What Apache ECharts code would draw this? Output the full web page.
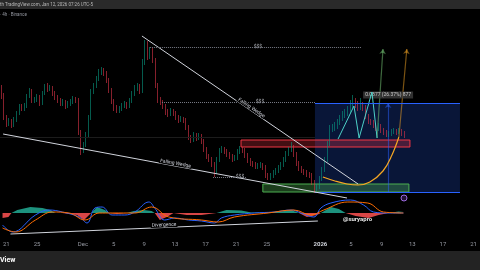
<!DOCTYPE html>
<html><head><meta charset="utf-8">
<script src="https://cdn.jsdelivr.net/npm/echarts@6.0.0/dist/echarts.min.js"></script>
<style>html,body{margin:0;padding:0;background:#000;}#c{width:480px;height:270px;}</style>
</head><body><div id="c"></div>
<script>
// ---- data (price units, 8h candles from 2025-11-20 16:00) ----
const firstOpen = 0.437;
const closes = [
0.429,0.408,0.402,0.404,0.400,0.405,0.412,0.418,0.417,0.419,
0.429,0.434,0.425,0.425,0.428,0.422,0.432,0.439,0.436,0.437,
0.432,0.428,0.425,0.422,0.423,0.419,0.421,0.423,0.426,0.425,
0.393,0.377,0.380,0.390,0.407,0.433,0.439,0.446,0.453,0.455,
0.452,0.445,0.435,0.424,0.417,0.415,0.416,0.419,0.421,0.419,
0.424,0.431,0.437,0.439,0.434,0.463,0.482,0.468,0.475,0.465,
0.440,0.425,0.423,0.419,0.413,0.411,0.414,0.412,0.408,0.405,
0.406,0.405,0.398,0.388,0.385,0.390,0.387,0.389,0.384,0.376,
0.369,0.366,0.361,0.353,0.365,0.374,0.376,0.374,0.371,0.369,
0.366,0.367,0.373,0.376,0.375,0.370,0.365,0.362,0.361,0.359,
0.359,0.360,0.358,0.350,0.347,0.349,0.352,0.354,0.357,0.360,
0.365,0.371,0.375,0.378,0.371,0.362,0.357,0.354,0.353,0.351,
0.350,0.343,0.336,0.338,0.346,0.355,0.365,0.381,0.397,0.397,
0.399,0.403,0.407,0.410,0.412,0.415,0.420,0.424,0.421,0.418,
0.421,0.418,0.409,0.404,0.403,0.400,0.397,0.399,0.395,0.393,
0.391,0.391,0.393,0.394,0.393,0.394,0.392,0.390];
const highs = [
0.440,0.432,0.410,0.407,0.406,0.408,0.414,0.421,0.421,0.422,
0.431,0.437,0.436,0.428,0.431,0.430,0.434,0.441,0.442,0.440,
0.439,0.434,0.430,0.427,0.426,0.425,0.424,0.426,0.429,0.428,
0.427,0.395,0.383,0.393,0.410,0.436,0.442,0.449,0.456,0.458,
0.457,0.454,0.447,0.437,0.426,0.420,0.419,0.422,0.424,0.423,
0.427,0.434,0.440,0.442,0.441,0.466,0.485,0.484,0.478,0.477,
0.467,0.442,0.428,0.425,0.421,0.416,0.417,0.416,0.414,0.410,
0.409,0.408,0.407,0.400,0.390,0.393,0.392,0.392,0.391,0.386,
0.378,0.371,0.368,0.363,0.368,0.377,0.379,0.378,0.376,0.373,
0.371,0.370,0.376,0.379,0.378,0.377,0.372,0.367,0.364,0.363,
0.362,0.363,0.362,0.360,0.352,0.352,0.355,0.357,0.360,0.363,
0.368,0.374,0.378,0.383,0.380,0.373,0.364,0.359,0.356,0.355,
0.353,0.352,0.345,0.341,0.349,0.358,0.368,0.384,0.400,0.401,
0.403,0.406,0.410,0.414,0.416,0.419,0.425,0.430,0.427,0.424,
0.427,0.423,0.420,0.411,0.406,0.405,0.402,0.402,0.401,0.397,
0.395,0.394,0.396,0.397,0.396,0.397,0.396,0.394];
const lows = [
0.426,0.405,0.398,0.399,0.397,0.398,0.403,0.410,0.414,0.414,
0.417,0.427,0.422,0.422,0.423,0.419,0.420,0.430,0.433,0.434,
0.429,0.425,0.422,0.419,0.419,0.416,0.417,0.419,0.421,0.422,
0.390,0.370,0.372,0.378,0.388,0.405,0.431,0.437,0.444,0.450,
0.449,0.442,0.432,0.421,0.414,0.412,0.412,0.414,0.417,0.416,
0.417,0.422,0.429,0.434,0.431,0.432,0.460,0.465,0.466,0.462,
0.437,0.422,0.420,0.416,0.410,0.408,0.409,0.409,0.405,0.402,
0.403,0.402,0.395,0.385,0.382,0.383,0.384,0.385,0.381,0.373,
0.366,0.363,0.358,0.348,0.351,0.363,0.372,0.371,0.368,0.366,
0.363,0.364,0.365,0.371,0.372,0.367,0.362,0.359,0.358,0.356,
0.356,0.357,0.355,0.347,0.345,0.345,0.347,0.350,0.352,0.355,
0.358,0.363,0.369,0.373,0.368,0.359,0.354,0.352,0.350,0.348,
0.347,0.340,0.332,0.334,0.336,0.344,0.353,0.363,0.379,0.393,
0.394,0.396,0.400,0.404,0.407,0.409,0.412,0.417,0.417,0.414,
0.415,0.414,0.406,0.401,0.400,0.397,0.394,0.394,0.392,0.390,
0.388,0.388,0.389,0.391,0.390,0.391,0.389,0.387];
const slotCount = 187;
const tickDates = ['2025-11-21','2025-11-25','2025-12-01','2025-12-05','2025-12-09','2025-12-13','2025-12-17','2025-12-21','2025-12-25','2026-01-01','2026-01-05','2026-01-09','2026-01-13','2026-01-17','2026-01-21'];
const tickLabels = ['21','25','Dec','5','9','13','17','21','25','2026','5','9','13','17','21'];
// MACD panel [slot index, value]
const macdLine = [[-0.5,-0.006],[3.4,-0.0095],[12.4,-0.001],[17.8,0.0015],[22.9,0.0005],[29.5,-0.002],[32.6,-0.005],[35.7,0.0025],[38.5,0.003],[42.4,-0.001],[47.4,-0.001],[51.3,0.0005],[56.8,0.0055],[59.1,0.0025],[63.0,-0.0035],[66.9,-0.0025],[72.3,-0.0035],[77.4,-0.004],[82.5,-0.005],[85.2,-0.0025],[90.3,-0.001],[98.1,0],[105.9,0.0005],[112.5,0.0015],[116.4,0],[121.4,-0.002],[124.2,0.0025],[128.1,0.005],[135.8,0.0065],[140.9,0.004],[144.8,0.0005],[150.3,0],[156.5,0]];
const signalLine = [[-0.5,-0.0075],[4.6,-0.0095],[12.4,-0.0035],[19.0,0.0005],[25.6,0],[31.8,-0.0035],[37.3,0],[42.4,0],[51.3,0],[57.9,0.003],[64.6,-0.002],[77.4,-0.0035],[84.0,-0.0045],[90.3,-0.002],[103.5,0],[113.6,0.0015],[120.3,-0.001],[125.3,0.0015],[134.7,0.0055],[142.5,0.005],[148.7,0.0005],[156.5,0]];
const macdHist = [[-0.5,-0.0025],[1.8,-0.002],[3.0,0],[5.3,0.0015],[10.4,0.003],[15.1,0.0025],[18.2,0.0015],[20.2,0],[22.9,0],[28.7,-0.001],[31.4,-0.0035],[33.4,-0.001],[34.2,0],[36.5,0.003],[39.6,0.0015],[41.2,0],[44.3,-0.0005],[48.2,0],[50.9,0.001],[54.8,0.0015],[57.9,0.001],[59.1,0],[61.1,-0.0035],[63.8,-0.002],[66.5,0],[71.6,-0.001],[77.4,-0.001],[83.3,0],[87.2,0.0015],[93.0,0.0012],[96.9,0.0003],[102.7,0.0003],[108.6,0.0008],[112.5,0.0015],[115.6,0],[118.7,-0.002],[122.6,-0.001],[124.2,0],[128.1,0.003],[131.2,0.002],[133.9,0],[137.8,-0.0015],[142.9,-0.0025],[146.8,-0.001],[150.7,0],[154.6,0.0008],[156.5,0.0005]];
// drawings [slot index, price]
const upperWedge = [[54.8,0.489],[139.0,0.341]];
const lowerWedge = [[0.7,0.391],[134.7,0.327]];
const divergence = [[2.6,-0.0105],[123.0,-0.004]];
const dollarLevels = [{from:57.9,to:140.5,price:0.478,labelAt:100.0},{from:62.6,to:122.6,price:0.423,labelAt:100.8},{from:82.5,to:95.3,price:0.348,labelAt:93.0}];
const faintLevel = {from:-0.5,to:122.2,price:0.388};
const blueBox = [[122.2,0.422],[178.7,0.333]];
const redBox = [[93.4,0.385],[159.2,0.378]];
const greenBox = [[101.9,0.341],[158.8,0.333]];
const blueArrow = [[150.7,0.333],[150.7,0.422]];
const zigzag = [[131.2,0.386],[137.4,0.419],[139.4,0.387],[144.4,0.433],[146.4,0.387]];
const greenArrow = [[146.4,0.387],[148.7,0.476]];
const cupCurve = [[125.3,0.348],[130.0,0.344],[134.7,0.341],[139.0,0.340],[143.6,0.343],[148.7,0.354],[152.2,0.370],[154.9,0.388]];
const orangeArrow = [[154.9,0.388],[158.0,0.476]];
const measureLabel = {at:[150.7,0.430], text:'0.0877 (26.37%) 877'};

// ---- build ----
const t0 = Date.UTC(2025,10,20,16);
const cats = [];
for (let i=0;i<slotCount;i++){ const s=new Date(t0+i*8*3600e3).toISOString(); cats.push(s.slice(0,10)+' '+s.slice(11,13)); }
const candles = closes.map((c,i)=>[i?closes[i-1]:firstOpen, c, lows[i], highs[i]]);
const F = 'Roboto, "Liberation Sans", sans-serif';
const W = '#d1d4dc';
const noAxis = {show:false};
const ov = {xAxisIndex:1,yAxisIndex:0};
const mv = {xAxisIndex:3,yAxisIndex:1};
function seg(pts, ls, label){
  return [{coord:pts[0], lineStyle:ls, label:label||{show:false}},{coord:pts[1]}];
}
const wedgeLabel = {show:true, position:'middle', formatter:'Falling Wedge', color:W, fontSize:5, fontFamily:F, backgroundColor:'#000', padding:[0,1], distance:0};

const option = {
  animation:false,
  backgroundColor:'#000',
  grid:[{left:0,right:0,top:20,height:180},{left:0,right:0,top:197,height:40}],
  xAxis:[
    {type:'category',gridIndex:0,data:cats,show:false,boundaryGap:true},
    {type:'value',gridIndex:0,min:-0.5,max:slotCount-0.5,show:false},
    {type:'category',gridIndex:1,data:cats,boundaryGap:true,axisLine:noAxis,axisTick:noAxis,splitLine:noAxis,
      axisLabel:{margin:4,color:'#9598a1',fontSize:6,fontFamily:F,
        interval:(idx,val)=>val.endsWith(' 00') && tickDates.includes(val.slice(0,10)),
        formatter:(val)=>{const s=tickLabels[tickDates.indexOf(val.slice(0,10))]; return s==='2026'?'{b|'+s+'}':s;},
        rich:{b:{fontWeight:'bold',color:'#d1d4dc',fontSize:6,fontFamily:F}}}},
    {type:'value',gridIndex:1,min:-0.5,max:slotCount-0.5,show:false}
  ],
  yAxis:[
    {type:'value',gridIndex:0,min:0.325,max:0.505,show:false,splitLine:noAxis},
    {type:'value',gridIndex:1,min:-0.012,max:0.008,show:false,splitLine:noAxis}
  ],
  series:[
    {type:'line',...ov,data:[],silent:true,
      markArea:{silent:true,data:[[{coord:blueBox[0],itemStyle:{color:'rgba(41,98,255,0.22)'}},{coord:blueBox[1]}]]},
      markLine:{silent:true,symbol:['none','none'],data:[
        seg([[blueBox[0][0],blueBox[0][1]],[blueBox[1][0],blueBox[0][1]]],{color:'#2962ff',width:1.2,type:'solid'}),
        seg([[blueBox[0][0],blueBox[1][1]],[blueBox[1][0],blueBox[1][1]]],{color:'#2962ff',width:1.2,type:'solid'}),
        seg([[faintLevel.from,faintLevel.price],[faintLevel.to,faintLevel.price]],{color:'#1c1c1c',width:1,type:'solid'})
      ]}},
    {type:'line',...ov,data:[],silent:true,
      markArea:{silent:true,data:[
        [{coord:redBox[0],itemStyle:{color:'rgba(242,54,69,0.28)',borderColor:'#f23645',borderWidth:1}},{coord:redBox[1]}],
        [{coord:greenBox[0],itemStyle:{color:'rgba(76,175,80,0.35)',borderColor:'#4caf50',borderWidth:1}},{coord:greenBox[1]}]
      ]}},
    {type:'candlestick',xAxisIndex:0,yAxisIndex:0,data:candles,barWidth:'48%',
      itemStyle:{color:'#089981',color0:'#e0364a',borderColor:'#089981',borderColor0:'#e0364a',borderWidth:0.6}},
    {type:'line',...ov,data:[],silent:true,
      markLine:{silent:true,symbol:['none','none'],data:[
        seg(upperWedge,{color:W,width:1,type:'solid'},wedgeLabel),
        seg(lowerWedge,{color:W,width:1,type:'solid'},wedgeLabel),
        ...dollarLevels.map(d=>seg([[d.from,d.price],[d.to,d.price]],{color:'#787b86',width:1,type:'dotted'}))
      ]}},
    {type:'line',...ov,data:zigzag,showSymbol:false,lineStyle:{color:'#4dd0c8',width:1}},
    {type:'line',...ov,data:cupCurve,showSymbol:false,smooth:0.4,lineStyle:{color:'#f5a623',width:1.2}},
    {type:'lines',coordinateSystem:'cartesian2d',...ov,symbol:['none','arrow'],symbolSize:5,
      data:[{coords:greenArrow,lineStyle:{color:'#7ccf7c',width:1.2}},
            {coords:orangeArrow,lineStyle:{color:'#f5a623',width:1.2}},
            {coords:blueArrow,lineStyle:{color:'#2962ff',width:1.2}}]},
    {type:'scatter',...ov,symbolSize:0,silent:true,
      data:[...dollarLevels.map(d=>({value:[d.labelAt,d.price],label:{formatter:'$$$'}})),
            {value:measureLabel.at,label:{formatter:measureLabel.text,backgroundColor:'#3d3d3d',color:'#e6e6e6',padding:[1,2]}}],
      label:{show:true,position:'inside',color:W,fontSize:5,fontFamily:F,backgroundColor:'#000',padding:[0,1]}},
    // MACD
    {type:'line',...mv,data:macdHist.map(p=>[p[0],Math.max(p[1],0)]),showSymbol:false,lineStyle:{width:0},areaStyle:{color:'#22ab94',opacity:0.85}},
    {type:'line',...mv,data:macdHist.map(p=>[p[0],Math.min(p[1],0)]),showSymbol:false,lineStyle:{width:0},areaStyle:{color:'#ff5252',opacity:0.85}},
    {type:'line',...mv,data:macdLine,showSymbol:false,smooth:0.4,lineStyle:{color:'#2962ff',width:1}},
    {type:'line',...mv,data:signalLine,showSymbol:false,smooth:0.4,lineStyle:{color:'#ff6d00',width:1}},
    {type:'line',...mv,data:[],silent:true,
      markLine:{silent:true,symbol:['none','none'],data:[
        seg(divergence,{color:W,width:1,type:'solid'},{show:true,position:'middle',formatter:'Divergence',color:W,fontSize:5,fontFamily:F,backgroundColor:'#000',padding:[0,1],distance:0})
      ]}}
  ],
  graphic:[
    {type:'rect',left:0,top:0,shape:{width:480,height:9},style:{fill:'#2a2a2a'},silent:true},
    {type:'text',left:0,top:2,style:{text:'th TradingView.com, Jan 12, 2026 07:26 UTC-5',fill:'#b8b8b8',fontSize:4.5,fontFamily:F}},
    {type:'text',left:0,top:12,style:{text:'· 4h · Binance',fill:'#9598a1',fontSize:4.5,fontFamily:F}},
    {type:'rect',left:0,top:251,shape:{width:480,height:19},style:{fill:'#232323'},silent:true},
    {type:'text',left:0,top:257,style:{text:'View',fill:'#ffffff',fontSize:7,fontWeight:'bold',fontFamily:F}},
    {type:'text',left:343,top:216,style:{text:'@suryapro',fill:'#e6e6e6',fontSize:6,fontWeight:'bold',fontFamily:F}},
    {type:'circle',shape:{cx:404,cy:198,r:3},style:{fill:'rgba(120,60,180,0.3)',stroke:'#9c6ade',lineWidth:1}}
  ]
};
echarts.init(document.getElementById('c')).setOption(option);
</script></body></html>
